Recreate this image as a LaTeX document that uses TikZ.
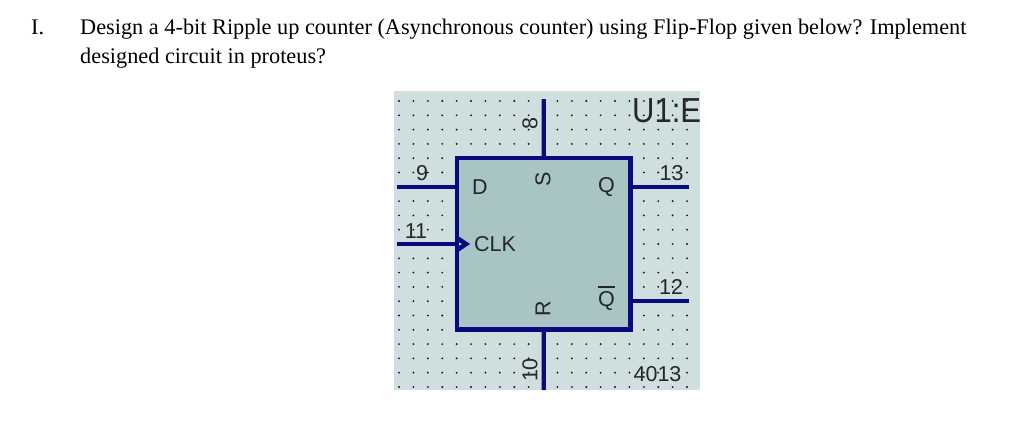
\documentclass[tikz,border=0pt]{standalone}
\usepackage{fontspec}
\setmainfont{Liberation Serif}
\newfontfamily\arialf{Liberation Sans}
\definecolor{bgc}{HTML}{CFDFDF}
\definecolor{boxc}{HTML}{A8C4C4}
\definecolor{wirec}{HTML}{0A0A80}
\tikzset{
  wire/.style={draw=wirec,line width=4.2pt},
  body/.style={text=black!85,font=\arialf\fontsize{21.5}{22}\selectfont,inner sep=0pt},
  para/.style={anchor=base west,inner sep=0pt,font=\fontsize{22.3}{24}\selectfont,text=black},
  griddot/.style={fill=black!90,draw=none}
}
\begin{document}
\begin{tikzpicture}[x=1pt,y=-1pt]
\useasboundingbox (0,0) rectangle (1024,431);
\fill[white] (0,0) rectangle (1024,431);
\fill[bgc] (394,91) rectangle (700,390);
% grid dots
\foreach \i in {0,...,20}{\foreach \j in {0,...,20}{
  \pgfmathsetmacro{\dx}{399+14.4*\i}
  \pgfmathsetmacro{\dy}{101+14.3*\j}
  \fill[griddot] (\dx,\dy) circle (1.05);
}}
\node[para] (roman) at (31,34) {I.};
\node[para] (line1) at (80,34) {Design a 4-bit Ripple up counter (Asynchronous counter) using Flip-Flop given below? Implement};
\node[para] (line2) at (80,63) {designed circuit in proteus?};
\node[draw=wirec,fill=boxc,line width=4.4pt,minimum width=173.5pt,minimum height=171.5pt,inner sep=0pt] (ic) at (543.75,243.75) {};
\coordinate (dend) at (397,186.7);
\coordinate (cend) at (397,244);
\coordinate (send) at (543.7,99);
\coordinate (rend) at (543.7,390);
\coordinate (qend) at (689,186.7);
\coordinate (nend) at (689,300.7);
\draw[wire] (dend) -- (ic.west |- dend);
\draw[wire] (cend) -- (ic.west |- cend);
\draw[wire] (send) -- (ic.north);
\draw[wire] (rend) -- (ic.south);
\draw[wire] (qend) -- (ic.east |- qend);
\draw[wire] (nend) -- (ic.east |- nend);
\fill[wirec] (456,234.5) -- (470,244) -- (456,253.5) -- cycle;
\fill[boxc!60!white] (459,242.5) -- (462,244) -- (459,245.5) -- cycle;
\node[body] (d) at (480,187.5) {D};
\node[body] (clk) at (495,244.5) {CLK};
\node[body,rotate=90] (s) at (543,179) {S};
\node[body,rotate=90] (r) at (543,309) {R};
\node[body] (q) at (606.5,187.5) {Q};
\node[body] (qb) at (606.5,301) {Q};
\draw[draw=black!85,line width=1.6pt] ([yshift=4pt]qb.north west) -- ([yshift=4pt]qb.north east);
\node[body] (n9) at (422,173.5) {9};
\node[body] (n11) at (416,231.5) {11};
\node[body] (n13) at (671.5,173.5) {13};
\node[body] (n12) at (671,287) {12};
\node[body,rotate=90] (n8) at (530,123.5) {8};
\node[body,rotate=90] (n10) at (530,370) {10};
\node[body] (ref) at (657.5,374.5) {4013};
\begin{scope}
\clip (394,91) rectangle (700,390);
\node[body,anchor=west,font=\arialf\fontsize{31}{31}\selectfont,yscale=1.12] (u) at (632,111) {U1:E};
\end{scope}
\end{tikzpicture}
\end{document}
